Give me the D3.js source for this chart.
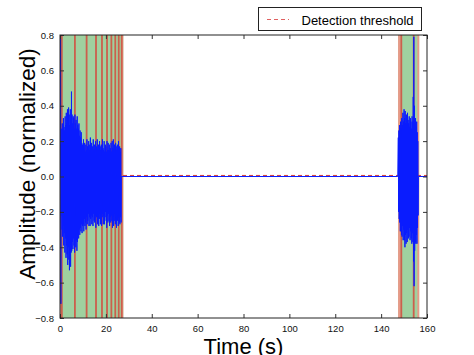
<!DOCTYPE html>
<html><head><meta charset="utf-8">
<script src="https://cdn.jsdelivr.net/npm/d3@7"></script>
<style>html,body{margin:0;padding:0;background:#fff;}svg{display:block;}</style>
</head><body>
<script>
// ---- data ----
const xTicks = [0, 20, 40, 60, 80, 100, 120, 140, 160];
const yTicks = [-0.8, -0.6, -0.4, -0.2, 0.0, 0.2, 0.4, 0.6, 0.8];
const threshold = 0.006;
const baseline = 0.0;
const burst1Start = 0.25, burst1Step = 0.25;
const burst1Top = [0.85, 0.18, 0.27,
  0.30, 0.24, 0.33, 0.28, 0.26, 0.34, 0.29, 0.36, 0.30, 0.38, 0.32, 0.39,
  0.35, 0.29, 0.38, 0.32, 0.48, 0.35, 0.30, 0.34, 0.33, 0.27, 0.35, 0.30,
  0.32, 0.27, 0.34, 0.29, 0.27, 0.30, 0.23, 0.26, 0.22, 0.25, 0.19, 0.18,
  0.16, 0.21, 0.15, 0.19, 0.14, 0.18, 0.15, 0.21, 0.17, 0.14, 0.20, 0.15,
  0.18, 0.22, 0.15, 0.19, 0.14, 0.17, 0.21, 0.15, 0.18, 0.15, 0.20, 0.14,
  0.17, 0.21, 0.15, 0.18, 0.14, 0.20, 0.17, 0.15, 0.18, 0.15, 0.21, 0.16,
  0.15, 0.20, 0.14, 0.18, 0.17, 0.14, 0.20, 0.15, 0.19, 0.15, 0.18, 0.14,
  0.16, 0.19, 0.14, 0.20, 0.16, 0.21, 0.15, 0.18, 0.14, 0.19, 0.17, 0.15,
  0.18, 0.15, 0.20, 0.16, 0.17, 0.14, 0.16];
const burst1Bottom = [-0.72, -0.22, -0.30,
  -0.34, -0.28, -0.39, -0.32, -0.43, -0.35, -0.46, -0.39, -0.44, -0.50, -0.40, -0.47,
  -0.53, -0.45, -0.51, -0.43, -0.42, -0.37, -0.41, -0.35, -0.39, -0.43, -0.36, -0.40,
  -0.36, -0.42, -0.37, -0.33, -0.35, -0.30, -0.33, -0.29, -0.31, -0.27, -0.32, -0.28,
  -0.27, -0.31, -0.24, -0.28, -0.26, -0.30, -0.23, -0.27, -0.25, -0.21, -0.28, -0.23,
  -0.28, -0.24, -0.22, -0.27, -0.23, -0.28, -0.21, -0.25, -0.26, -0.22, -0.29, -0.23,
  -0.21, -0.27, -0.23, -0.28, -0.24, -0.21, -0.27, -0.22, -0.28, -0.23, -0.21, -0.27,
  -0.22, -0.27, -0.23, -0.20, -0.25, -0.29, -0.22, -0.26, -0.21, -0.25, -0.28, -0.23,
  -0.26, -0.22, -0.25, -0.29, -0.23, -0.28, -0.21, -0.25, -0.27, -0.23, -0.29, -0.22,
  -0.25, -0.28, -0.23, -0.26, -0.27, -0.23, -0.26];
const burst2Start = 147.5, burst2Step = 0.25;
const burst2Top = [0.22, 0.26,
  0.29, 0.24, 0.31, 0.27, 0.33, 0.29, 0.36, 0.31, 0.38, 0.33, 0.37, 0.30,
  0.35, 0.29, 0.36, 0.32, 0.30, 0.34, 0.28, 0.33, 0.31, 0.27, 0.34, 0.31,
  0.45, 0.79, 0.40, 0.32, 0.33, 0.28, 0.31, 0.25, 0.20];
const burst2Bottom = [-0.20, -0.24,
  -0.26, -0.31, -0.27, -0.33, -0.34, -0.28, -0.36, -0.30, -0.36, -0.40, -0.33, -0.38,
  -0.32, -0.37, -0.30, -0.35, -0.34, -0.29, -0.36, -0.31, -0.35, -0.38, -0.32, -0.37,
  -0.48, -0.62, -0.42, -0.37, -0.38, -0.33, -0.38, -0.29, -0.22];
const detectSpans = [[0.0, 27.6], [147.4, 156.6]];
const edgeSpans = [[0.0, 0.6], [26.6, 27.6], [147.4, 148.5], [155.8, 156.6]];
const onsetLines = [0.8, 6.5, 11.6, 15.7, 18.3, 20.5, 22.4, 24.1, 25.6, 26.9, 148.8, 154.2];
const legendLabel = "Detection threshold";

// ---- layout ----
const W = 474, H = 355;
const m = {left: 60, right: 47, top: 35, bottom: 37};
const pw = W - m.left - m.right, ph = H - m.top - m.bottom;
const font = "'Liberation Sans', Arial, Helvetica, sans-serif";

const svg = d3.select("body").append("svg").attr("width", W).attr("height", H);
const x = d3.scaleLinear().domain([0, 160]).range([m.left, m.left + pw]);
const y = d3.scaleLinear().domain([-0.8, 0.8]).range([m.top + ph, m.top]);

svg.append("defs").append("clipPath").attr("id", "clip")
  .append("rect").attr("x", m.left).attr("y", m.top).attr("width", pw).attr("height", ph);
const g = svg.append("g").attr("clip-path", "url(#clip)");

g.selectAll("rect.det").data(detectSpans).join("rect")
  .attr("x", d => x(d[0])).attr("width", d => x(d[1]) - x(d[0]))
  .attr("y", m.top).attr("height", ph).attr("fill", "#9fd19f");
g.selectAll("rect.edge").data(edgeSpans).join("rect")
  .attr("x", d => x(d[0])).attr("width", d => x(d[1]) - x(d[0]))
  .attr("y", m.top).attr("height", ph).attr("fill", "#e89a88");
g.selectAll("line.onset").data(onsetLines).join("line")
  .attr("x1", d => x(d)).attr("x2", d => x(d))
  .attr("y1", m.top).attr("y2", m.top + ph)
  .attr("stroke", "#cc5f4c").attr("stroke-width", 1.8);

// signal
const pts = [[0, baseline]];
burst1Top.forEach((v, i) => {
  const t = burst1Start + i * burst1Step;
  pts.push([t, v]); pts.push([t + burst1Step / 2, burst1Bottom[i]]);
});
pts.push([burst1Start + burst1Top.length * burst1Step, baseline]);
pts.push([burst2Start - burst2Step, baseline]);
burst2Top.forEach((v, i) => {
  const t = burst2Start + i * burst2Step;
  pts.push([t, v]); pts.push([t + burst2Step / 2, burst2Bottom[i]]);
});
pts.push([burst2Start + burst2Top.length * burst2Step, baseline]);
pts.push([160, baseline]);

g.append("line").attr("x1", x(0)).attr("x2", x(160))
  .attr("y1", y(threshold)).attr("y2", y(threshold))
  .attr("stroke", "#d43c3c").attr("stroke-width", 1).attr("stroke-dasharray", "4,3");
g.append("path").datum(pts)
  .attr("d", d3.line().x(d => x(d[0])).y(d => y(d[1])))
  .attr("fill", "none").attr("stroke", "#0a1cff").attr("stroke-width", 1);

// axes
const tickLen = 4;
const fmtY = d => d3.format(".1f")(d).replace("-", "\u2212");
const axB = d3.axisBottom(x).tickValues(xTicks).tickSizeInner(-tickLen).tickSizeOuter(0).tickPadding(7);
const axT = d3.axisTop(x).tickValues(xTicks).tickSizeInner(-tickLen).tickSizeOuter(0).tickFormat("");
const axL = d3.axisLeft(y).tickValues(yTicks).tickSizeInner(-tickLen).tickSizeOuter(0).tickPadding(6).tickFormat(fmtY);
const axR = d3.axisRight(y).tickValues(yTicks).tickSizeInner(-tickLen).tickSizeOuter(0).tickFormat("");
function style(sel) {
  sel.select(".domain").remove();
  sel.selectAll("line").attr("stroke", "#333");
  sel.selectAll("text").attr("font-family", font).attr("font-size", 9.5).attr("fill", "#111");
}
svg.append("g").attr("transform", `translate(0,${m.top + ph})`).call(axB).call(style);
svg.append("g").attr("transform", `translate(0,${m.top})`).call(axT).call(style);
svg.append("g").attr("transform", `translate(${m.left},0)`).call(axL).call(style);
svg.append("g").attr("transform", `translate(${m.left + pw},0)`).call(axR).call(style);
svg.append("rect").attr("x", m.left).attr("y", m.top).attr("width", pw).attr("height", ph)
  .attr("fill", "none").attr("stroke", "#222").attr("stroke-width", 1);

// labels
svg.append("text").attr("x", x(80)).attr("y", 354).attr("text-anchor", "middle")
  .attr("font-family", font).attr("font-size", 22).attr("fill", "#000").text("Time (s)");
svg.append("text").attr("transform", `translate(35,164) rotate(-90)`)
  .attr("text-anchor", "middle").attr("font-family", font).attr("font-size", 22.5)
  .attr("fill", "#000").text("Amplitude (normalized)");

// legend
const lg = svg.append("g");
lg.append("rect").attr("x", 258.5).attr("y", 7.5).attr("width", 163).attr("height", 23)
  .attr("fill", "#fff").attr("stroke", "#222").attr("stroke-width", 1);
lg.append("line").attr("x1", 267).attr("x2", 289).attr("y1", 19.5).attr("y2", 19.5)
  .attr("stroke", "#e06060").attr("stroke-width", 1).attr("stroke-dasharray", "4,3");
lg.append("text").attr("x", 301.5).attr("y", 24.5).attr("font-family", font).attr("font-size", 13)
  .attr("fill", "#000").text(legendLabel);
</script>
</body></html>
